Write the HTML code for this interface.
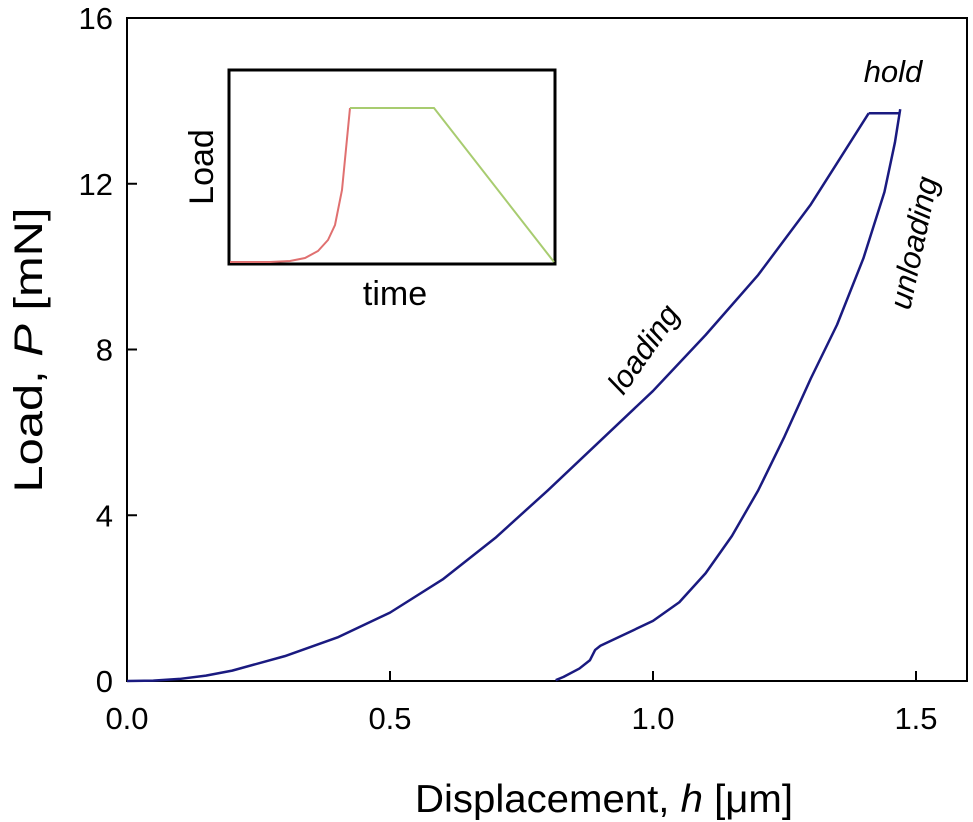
<!DOCTYPE html>
<html><head><meta charset="utf-8"><style>
body{margin:0;background:#fff;}
svg{display:block;font-family:"Liberation Sans",Arial,sans-serif;}
</style></head><body>
<svg id="chart" width="973" height="822" viewBox="0 0 973 822">
<rect x="127" y="18" width="840" height="663" fill="none" stroke="#000" stroke-width="2"/>
<g id="ticks"></g>
<g id="series"></g>
<text x="0" y="0" font-size="40" text-anchor="middle" transform="translate(42,350) rotate(-90)" textLength="285" lengthAdjust="spacingAndGlyphs">Load, <tspan font-style="italic">P</tspan> [mN]</text>
<text x="604" y="812" font-size="39" text-anchor="middle" textLength="378" lengthAdjust="spacingAndGlyphs">Displacement, <tspan font-style="italic">h</tspan> [μm]</text>
<text x="893" y="82" font-size="31" font-style="italic" text-anchor="middle">hold</text>
<text x="0" y="0" font-size="31" font-style="italic" text-anchor="middle" transform="translate(652,355) rotate(-55)">loading</text>
<text x="0" y="0" font-size="31" font-style="italic" text-anchor="middle" transform="translate(924,245) rotate(-78)">unloading</text>
<g>
<rect x="229" y="70" width="326" height="194" fill="none" stroke="#000" stroke-width="3"/>
<path d="M230,262 L270,262 L290,261 L305,258 L318,251 L328,240 L335,225 L342,190 L350,108" fill="none" stroke="#e07070" stroke-width="2"/>
<path d="M350,108 L434,108 L554,262" fill="none" stroke="#a8cc70" stroke-width="2"/>
<text x="0" y="0" font-size="34" text-anchor="middle" transform="translate(213,167) rotate(-90)">Load</text>
<text x="395" y="305" font-size="34" text-anchor="middle">time</text>
</g>
</svg>
<script>
const xTicks=[0.0,0.5,1.0,1.5];
const xTickLabels=["0.0","0.5","1.0","1.5"];
const yTicks=[0,4,8,12,16];
const yTickLabels=["0","4","8","12","16"];
const loadH=[0,0.05,0.1,0.15,0.2,0.3,0.4,0.5,0.6,0.7,0.8,0.9,1.0,1.1,1.2,1.3,1.35,1.41];
const loadP=[0,0.01,0.05,0.13,0.25,0.6,1.05,1.65,2.45,3.45,4.6,5.8,7.0,8.35,9.8,11.5,12.5,13.7];
const holdH=[1.41,1.47];
const holdP=[13.7,13.7];
const unloadH=[1.47,1.46,1.44,1.40,1.35,1.30,1.25,1.20,1.15,1.10,1.05,1.0,0.95,0.9,0.89,0.88,0.86,0.83,0.815];
const unloadP=[13.8,13.0,11.8,10.2,8.6,7.3,5.9,4.6,3.5,2.6,1.9,1.45,1.15,0.85,0.75,0.5,0.3,0.1,0.02];
const NS="http://www.w3.org/2000/svg";
function xs(h){return 127+h*526;}
function ys(p){return 681-p*(663/16);}
const tg=document.getElementById('ticks');
xTicks.forEach((v,i)=>{
 const l=document.createElementNS(NS,'line');
 l.setAttribute('x1',xs(v));l.setAttribute('x2',xs(v));l.setAttribute('y1',681);l.setAttribute('y2',671);
 l.setAttribute('stroke','#000');l.setAttribute('stroke-width','2');
 
 
 tg.appendChild(l);
 const t=document.createElementNS(NS,'text');
 t.setAttribute('x',xs(v));t.setAttribute('y',729);t.setAttribute('font-size','31');t.setAttribute('text-anchor','middle');
 t.textContent=xTickLabels[i];
 
 
 tg.appendChild(t);
});
yTicks.forEach((v,i)=>{
 const l=document.createElementNS(NS,'line');
 l.setAttribute('x1',127);l.setAttribute('x2',137);l.setAttribute('y1',ys(v));l.setAttribute('y2',ys(v));
 l.setAttribute('stroke','#000');l.setAttribute('stroke-width','2');
 
 
 tg.appendChild(l);
 const t=document.createElementNS(NS,'text');
 t.setAttribute('x',113);t.setAttribute('y',ys(v)+11);t.setAttribute('font-size','31');t.setAttribute('text-anchor','end');
 t.textContent=yTickLabels[i];
 
 
 tg.appendChild(t);
});
const sg=document.getElementById('series');
function line(H,P,name){
 const p=document.createElementNS(NS,'polyline');
 p.setAttribute('points',H.map((h,i)=>xs(h)+','+ys(P[i])).join(' '));
 p.setAttribute('fill','none');p.setAttribute('stroke','#1a1a80');p.setAttribute('stroke-width','2.5');
 p.setAttribute('stroke-linejoin','round');
 
 
 sg.appendChild(p);
}
line(loadH,loadP,'loading-curve');
line(holdH,holdP,'hold-segment');
line(unloadH,unloadP,'unloading-curve');
</script>
</body></html>
